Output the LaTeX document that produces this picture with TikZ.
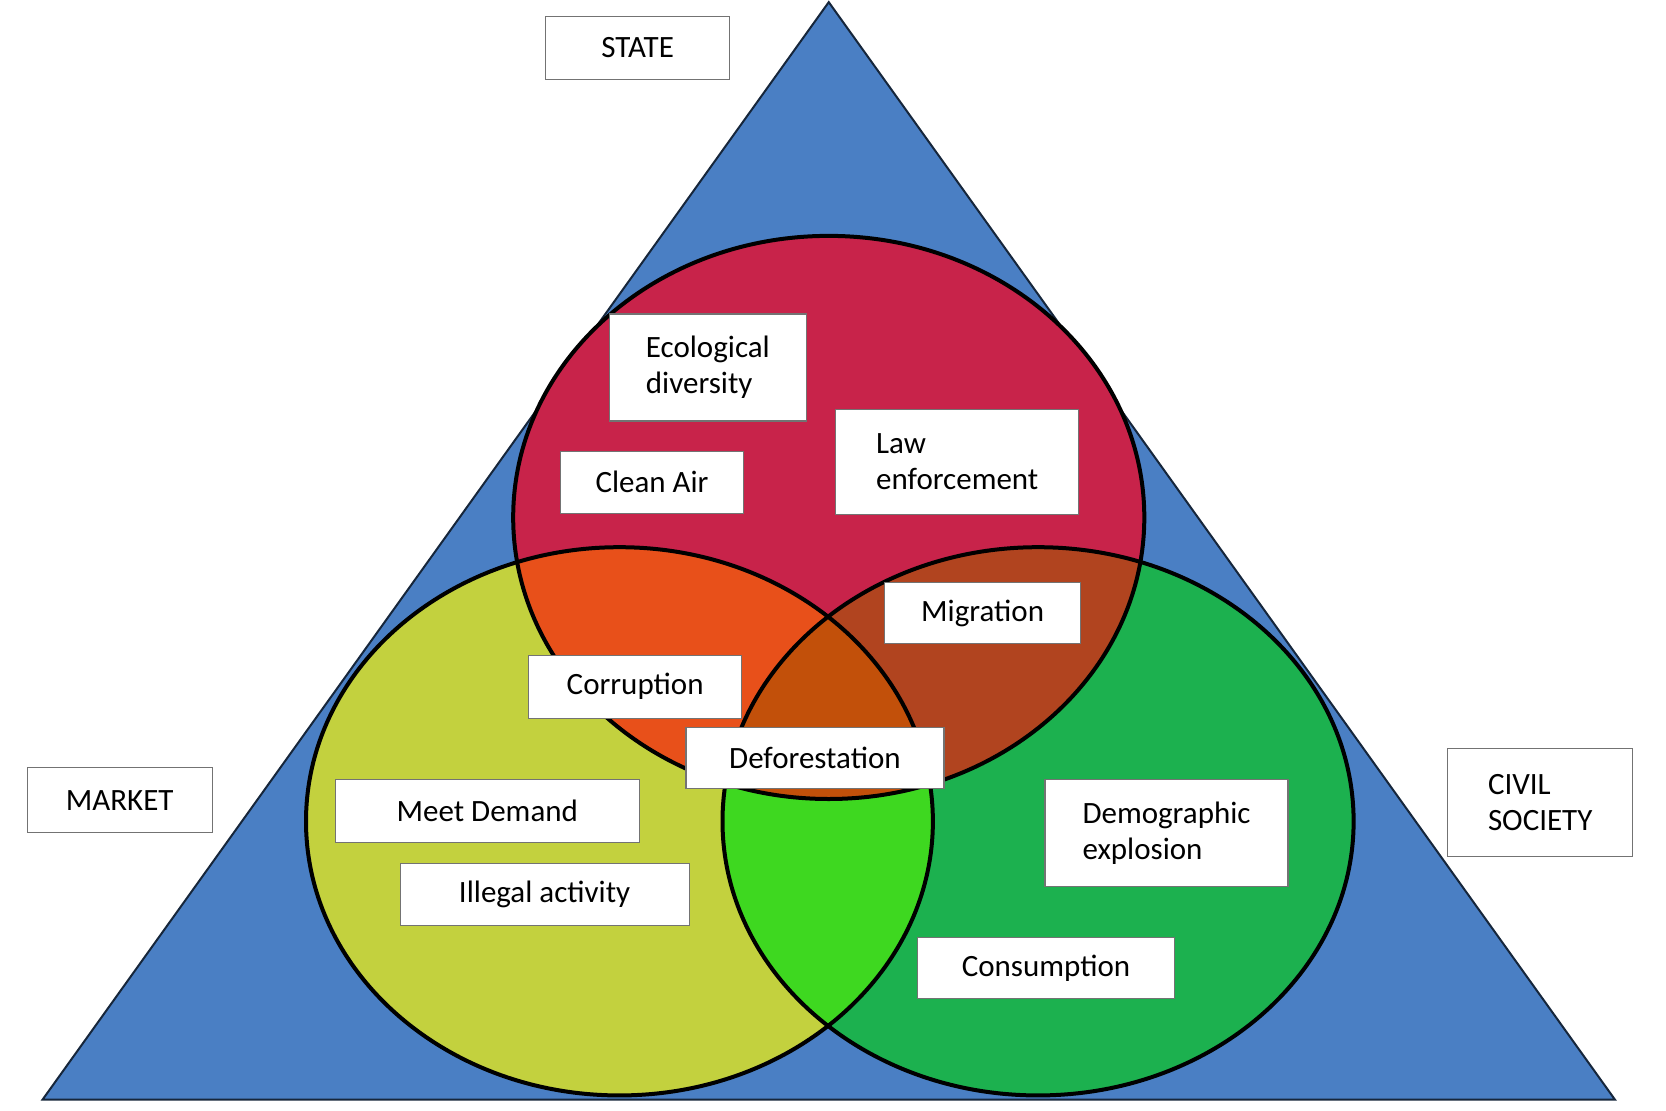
\documentclass[tikz,border=0pt]{standalone}
\usepackage{fontspec}
\setmainfont{Carlito}
\begin{document}
\begin{tikzpicture}[x=1.0625pt,y=-1.0625pt,
 bx/.style={draw=black!55,line width=1.2pt,fill=white,inner xsep=18pt,inner ysep=4pt,align=left,font=\fontsize{31}{36}\selectfont,anchor=north west},
 ring/.style={draw=black,line width=4pt}]
\useasboundingbox (0,0) rectangle (1568,1045.6);
\definecolor{tri}{HTML}{4A7FC4}
\definecolor{cr}{HTML}{C8234A}
\definecolor{cy}{HTML}{C3D13E}
\definecolor{cg}{HTML}{1CB14F}
\definecolor{ry}{HTML}{E8501A}
\definecolor{rg}{HTML}{B1441F}
\definecolor{yg}{HTML}{3ED820}
\definecolor{rgy}{HTML}{C2500A}
\coordinate (A) at (780,2); \coordinate (B) at (40,1035); \coordinate (C) at (1520,1035);
\fill[tri,draw=black!70!tri,line width=2pt] (A)--(B)--(C)--cycle;
\coordinate (R) at (780,487); \coordinate (Y) at (583,773); \coordinate (G) at (977,773);
\fill[cr] (R) ellipse [x radius=297,y radius=265];
\fill[cy] (Y) ellipse [x radius=295,y radius=258];
\fill[cg] (G) ellipse [x radius=297,y radius=258];
\begin{scope}\clip (R) ellipse [x radius=297,y radius=265];
 \fill[ry] (Y) ellipse [x radius=295,y radius=258];
 \fill[rg] (G) ellipse [x radius=297,y radius=258];
 \begin{scope}\clip (Y) ellipse [x radius=295,y radius=258];
  \fill[rgy] (G) ellipse [x radius=297,y radius=258];
 \end{scope}
\end{scope}
\begin{scope}\clip (Y) ellipse [x radius=295,y radius=258];
 \begin{scope}[even odd rule]\clip (G) ellipse [x radius=297,y radius=258] (R) ellipse [x radius=297,y radius=265] (-100,-100) rectangle (2000,2000);\end{scope}
\end{scope}
\begin{scope}\clip (Y) ellipse [x radius=295,y radius=258];
 \clip (G) ellipse [x radius=297,y radius=258];
 \fill[yg] (0,760) rectangle (1600,1100);
 \fill[yg] (Y) ellipse [x radius=295,y radius=258];
\end{scope}
% restore center region over yg
\begin{scope}\clip (R) ellipse [x radius=297,y radius=265];
 \clip (Y) ellipse [x radius=295,y radius=258];
 \fill[rgy] (G) ellipse [x radius=297,y radius=258];
\end{scope}
\draw[ring] (R) ellipse [x radius=297,y radius=265];
\draw[ring] (Y) ellipse [x radius=295,y radius=258];
\draw[ring] (G) ellipse [x radius=297,y radius=258];
\node[bx,minimum width=184,minimum height=63] (state) at (513,15) {STATE};
\node[bx,minimum width=185,minimum height=65] (market) at (25,722) {MARKET};
\node[bx,minimum width=185,minimum height=108] (civil) at (1362,704) {CIVIL\\SOCIETY};
\node[bx,minimum width=197,minimum height=107] (eco) at (573,295) {Ecological\\diversity};
\node[bx,minimum width=183,minimum height=62] (air) at (527,424) {Clean Air};
\node[bx,minimum width=243,minimum height=105] (law) at (786,385) {Law\\enforcement};
\node[bx,minimum width=196,minimum height=61] (mig) at (832,548) {Migration};
\node[bx,minimum width=213,minimum height=63] (cor) at (497,616) {Corruption};
\node[bx,minimum width=258,minimum height=61] (def) at (645,684) {Deforestation};
\node[bx,minimum width=304,minimum height=63] (meet) at (315,733) {Meet Demand};
\node[bx,minimum width=289,minimum height=62] (ill) at (376,812) {Illegal activity};
\node[bx,minimum width=243,minimum height=107] (demo) at (983,733) {Demographic\\explosion};
\node[bx,minimum width=257,minimum height=61] (cons) at (863,882) {Consumption};
\end{tikzpicture}
\end{document}
